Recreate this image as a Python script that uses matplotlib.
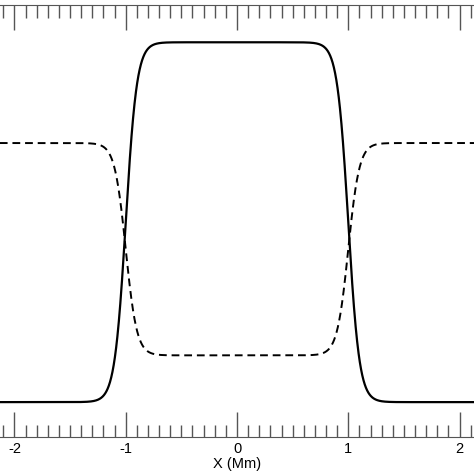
import matplotlib
matplotlib.use("Agg")
import matplotlib.pyplot as plt
import numpy as np
from matplotlib.ticker import MultipleLocator

plt.rcParams["font.family"] = ["Liberation Sans", "DejaVu Sans"]
plt.rcParams["axes.unicode_minus"] = False

# profile parameters
solid_low, solid_high = 0.0, 1.0
dashed_high, dashed_low = 0.72, 0.13
edge_left, edge_right = -1.0, 1.0
edge_width = 0.1

x = np.linspace(-2.2, 2.2, 2000)
step = 0.5 * (np.tanh((x - edge_left) / edge_width) - np.tanh((x - edge_right) / edge_width))
solid = solid_low + (solid_high - solid_low) * step
dashed = dashed_high + (dashed_low - dashed_high) * step

fig = plt.figure(figsize=(4.74, 4.74), dpi=100)
ax = fig.add_axes([0.0, 0.078, 1.0, 0.911])
ax.plot(x, solid, color="black", lw=1.6)
ax.plot(x, dashed, color="black", lw=1.4, ls=(0, (4, 2.5)))
ax.set_xlim(-2.13, 2.13)
ax.set_ylim(-0.097, 1.103)

grey = "#555555"
for s in ax.spines.values():
    s.set_color(grey)
ax.spines["left"].set_visible(False)
ax.spines["right"].set_visible(False)
ax.set_yticks([])
ax.xaxis.set_major_locator(MultipleLocator(1))
ax.xaxis.set_minor_locator(MultipleLocator(0.1))
ax.tick_params(axis="x", which="both", direction="in", top=True, color=grey, labelsize=10.5)
ax.tick_params(axis="x", which="major", length=18, width=1)
ax.tick_params(axis="x", which="minor", length=9, width=1)
ax.set_xlabel("X (Mm)", fontsize=10.5, labelpad=1)

fig.savefig("out.png", dpi=100)
